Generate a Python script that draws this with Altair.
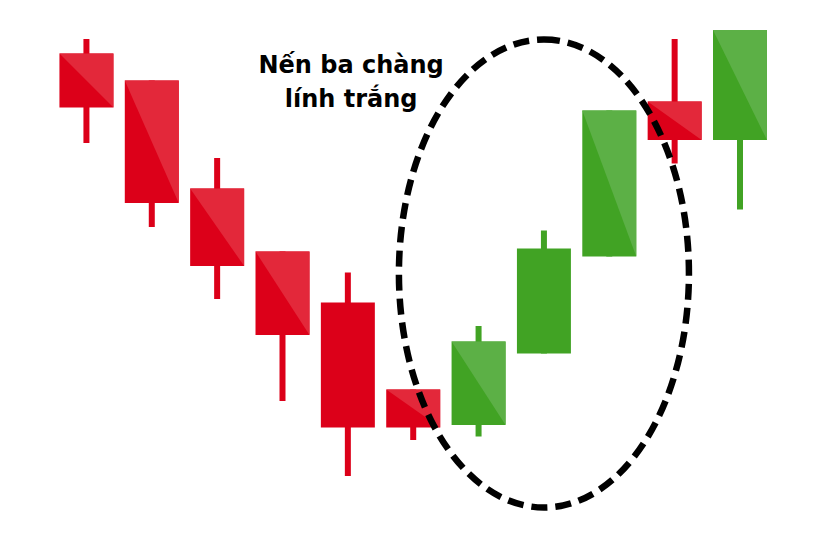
import altair as alt
import pandas as pd

# ---- data (arbitrary price units) ----
candle_ids = list(range(1, 12))
opens  = [90.9, 85.5, 63.9, 51.3, 41.1, 23.7, 16.6, 30.9, 50.3, 81.3, 73.6]
closes = [80.1, 61.0, 48.4, 34.6, 16.1, 16.1, 33.3, 51.9, 79.5, 73.6, 95.6]
highs  = [93.8, 85.5, 70.0, 51.3, 47.1, 23.7, 36.4, 55.5, 79.5, 93.8, 95.6]
lows   = [73.0, 56.2, 41.8, 21.4, 6.4, 13.6, 14.3, 30.9, 50.3, 68.9, 59.7]
glossy = [True, True, True, True, False, True, True, False, True, True, True]

label_lines = ["Nến ba chàng", "lính trắng"]
label_pos = {"x": 5.05, "y": 87.0}          # annotation anchor (data units)
ellipse_pos = {"x": 8.0, "y": 46.9}         # centre of the highlighted group

# ---- derived tables ----
HALF = 0.413
df = pd.DataFrame({
    "id": candle_ids, "open": opens, "close": closes,
    "high": highs, "low": lows, "glossy": glossy,
})
df["dir"] = ["up" if c > o else "down" for o, c in zip(opens, closes)]
df["top"] = df[["open", "close"]].max(axis=1)
df["bottom"] = df[["open", "close"]].min(axis=1)
df["left"] = df["id"] - HALF
df["right"] = df["id"] + HALF

tri_rows = []
for r in df[df["glossy"]].itertuples():
    tri_rows.append({"id": r.id, "dir": r.dir, "x": r.left, "y": r.top, "y2": r.top})
    tri_rows.append({"id": r.id, "dir": r.dir, "x": r.right, "y": r.top, "y2": r.bottom})
tri = pd.DataFrame(tri_rows)

xs = alt.Scale(domain=[-0.2, 12.27], nice=False, zero=False)
ys = alt.Scale(domain=[0, 100], nice=False, zero=False)

dark = alt.Scale(domain=["down", "up"], range=["#DC0019", "#41A324"])
light = alt.Scale(domain=["down", "up"], range=["#E3283A", "#5CB046"])

base = alt.Chart(df)

wicks = base.mark_rule(strokeWidth=6).encode(
    x=alt.X("id:Q", scale=xs, axis=None),
    y=alt.Y("low:Q", scale=ys, axis=None),
    y2="high:Q",
    color=alt.Color("dir:N", scale=dark, legend=None),
)

bodies = base.mark_rect().encode(
    x=alt.X("left:Q", scale=xs, axis=None),
    x2="right:Q",
    y=alt.Y("bottom:Q", scale=ys, axis=None),
    y2="top:Q",
    color=alt.Color("dir:N", scale=dark, legend=None),
)

shine = alt.Chart(tri).mark_area(interpolate="linear").encode(
    x=alt.X("x:Q", scale=xs, axis=None),
    y=alt.Y("y:Q", scale=ys, axis=None),
    y2="y2:Q",
    detail="id:N",
    color=alt.Color("dir:N", scale=light, legend=None),
)

a, k = 0.6197, 0.5523
ka = round(k * a, 4)
ellipse_path = (
    f"M 0 -1 C {ka} -1 {a} -{k} {a} 0 "
    f"C {a} {k} {ka} 1 0 1 "
    f"C -{ka} 1 -{a} {k} -{a} 0 "
    f"C -{a} -{k} -{ka} -1 0 -1 Z"
)

ellipse = alt.Chart(pd.DataFrame([ellipse_pos])).mark_point(
    shape=ellipse_path, size=468 * 468, filled=False, stroke="black",
    strokeWidth=6.5, strokeDash=[16, 8], opacity=1,
).encode(
    x=alt.X("x:Q", scale=xs, axis=None),
    y=alt.Y("y:Q", scale=ys, axis=None),
)

label = alt.Chart(pd.DataFrame([{**label_pos, "t": "\n".join(label_lines)}])).mark_text(
    align="center", baseline="alphabetic", fontSize=24, fontWeight="bold",
    font="DejaVu Sans", lineHeight=34, lineBreak="\n", color="#000000",
).encode(
    x=alt.X("x:Q", scale=xs, axis=None),
    y=alt.Y("y:Q", scale=ys, axis=None),
    text="t:N",
)

chart = alt.layer(wicks, bodies, shine, ellipse, label).resolve_scale(
    color="independent"
).properties(
    width=815, height=500, padding=0, background="white"
).configure_view(stroke=None)

chart.save("out.html", embed_options={"renderer": "svg", "actions": False})
